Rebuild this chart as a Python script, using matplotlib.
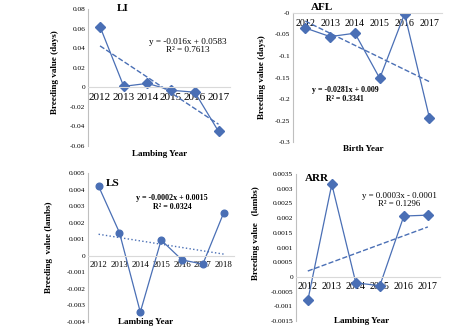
import matplotlib.pyplot as plt
import numpy as np
from matplotlib.ticker import FuncFormatter
from matplotlib import rcParams

rcParams['font.family'] = 'serif'
rcParams['font.serif'] = ['Liberation Serif']

# breeding value trends per trait
li_years = ['2012', '2013', '2014', '2015', '2016', '2017']
li_vals = [0.062, 0.001, 0.004, -0.003, -0.005, -0.045]
li_fit = (-0.016, 0.0583)

afl_years = ['2012', '2013', '2014', '2015', '2016', '2017']
afl_vals = [-0.035, -0.055, -0.047, -0.152, -0.002, -0.243]
afl_fit = (-0.0281, 0.009)

ls_years = ['2012', '2013', '2014', '2015', '2016', '2017', '2018']
ls_vals = [0.0042, 0.0014, -0.0034, 0.00095, -0.00025, -0.0005, 0.0026]
ls_fit = (-0.0002, 0.0015)

arr_years = ['2012', '2013', '2014', '2015', '2016', '2017']
arr_vals = [-0.0008, 0.00315, -0.0002, -0.0003, 0.00207, 0.0021]
arr_fit = (0.0003, -0.0001)

blue = '#4a6fb5'
fig = plt.figure(figsize=(4.74, 3.32), dpi=100)


def panel(rect, years, vals, fit, ylim, step, title, xlabel, ylabel, eq,
          marker='D', ms=4.6, trend_ls='--', xt_size=5.5, bold_xt=False,
          eq_size=6.5, bold_eq=False,
          title_xy=(0.2, 1.0), xlabel_xy=(0.5, -0.06), ylabel_xy=(-0.23, 0.5),
          eq_xy=(0.7, 0.73)):
    ax = fig.add_axes(rect)
    x = np.arange(len(years))
    ax.plot(x, vals, color=blue, lw=0.9, marker=marker, ms=ms)
    # linear trend over the year index 1..n
    xf = np.array([x[0], x[-1]])
    ax.plot(xf, fit[0] * (xf + 1) + fit[1], color=blue, lw=1.0, ls=trend_ls)
    ax.set_xlim(-0.5, len(years) - 0.5)
    ax.set_ylim(*ylim)
    ax.set_yticks(np.round(np.arange(ylim[0], ylim[1] + step / 2, step), 6))
    ax.yaxis.set_major_formatter(FuncFormatter(lambda v, p: '%g' % v))
    ax.set_xticks(x)
    ax.tick_params(length=0)
    ax.tick_params(axis='y', labelsize=5.3, pad=2)
    ax.tick_params(axis='x', labelsize=xt_size, pad=4)
    ax.set_xticklabels(years, fontsize=xt_size,
                       fontweight='bold' if bold_xt else 'normal')
    for s in ['top', 'right']:
        ax.spines[s].set_visible(False)
    ax.spines['bottom'].set_position(('data', 0))
    ax.spines['bottom'].set_color('#d9d9d9')
    ax.spines['left'].set_color('#bfbfbf')
    ax.patch.set_alpha(0)
    ax.text(title_xy[0], title_xy[1], title, transform=ax.transAxes,
            fontsize=8, fontweight='bold', ha='center', va='center')
    ax.text(xlabel_xy[0], xlabel_xy[1], xlabel, transform=ax.transAxes,
            fontsize=6.6, fontweight='bold', ha='center', va='center')
    ax.text(ylabel_xy[0], ylabel_xy[1], ylabel, transform=ax.transAxes,
            fontsize=6.6, fontweight='bold', ha='center', va='center',
            rotation=90)
    ax.text(eq_xy[0], eq_xy[1], eq, transform=ax.transAxes, fontsize=eq_size,
            fontweight='bold' if bold_eq else 'normal', ha='center',
            va='center', multialignment='center', linespacing=1.1)
    return ax


panel([0.186, 0.56, 0.30, 0.413], li_years, li_vals, li_fit, (-0.06, 0.08), 0.02,
      'LI', 'Lambing Year', 'Breeding value (days)',
      'y = -0.016x + 0.0583\nR² = 0.7613', xt_size=8, eq_size=6.6,
      title_xy=(0.24, 1.0), xlabel_xy=(0.5, -0.058), ylabel_xy=(-0.232, 0.54),
      eq_xy=(0.70, 0.73))

panel([0.618, 0.572, 0.314, 0.389], afl_years, afl_vals, afl_fit, (-0.3, 0.0), 0.05,
      'AFL', 'Birth Year', 'Breeding value (days)',
      'y = -0.0281x + 0.009\nR² = 0.3341', xt_size=7.2, eq_size=5.7,
      bold_eq=True,
      title_xy=(0.195, 1.04), xlabel_xy=(0.47, -0.054), ylabel_xy=(-0.208, 0.5),
      eq_xy=(0.35, 0.37))

panel([0.186, 0.03, 0.308, 0.449], ls_years, ls_vals, ls_fit, (-0.004, 0.005), 0.001,
      'LS', 'Lambing Year', 'Breeding  value (lambs)',
      'y = -0.0002x + 0.0015\nR² = 0.0324', marker='o', ms=4.8,
      trend_ls=':', xt_size=6.3, bold_xt=True, eq_size=5.8, bold_eq=True,
      title_xy=(0.17, 0.93), xlabel_xy=(0.39, 0.0), ylabel_xy=(-0.267, 0.5),
      eq_xy=(0.575, 0.80))

panel([0.624, 0.033, 0.304, 0.443], arr_years, arr_vals, arr_fit, (-0.0015, 0.0035), 0.0005,
      'ARR', 'Lambing Year', 'Breeding value   (lambs)',
      'y = 0.0003x - 0.0001\nR² = 0.1296', xt_size=7.2, eq_size=6.3,
      title_xy=(0.146, 0.966), xlabel_xy=(0.46, 0.0), ylabel_xy=(-0.278, 0.6),
      eq_xy=(0.72, 0.823))

plt.savefig('out.png', dpi=100)
